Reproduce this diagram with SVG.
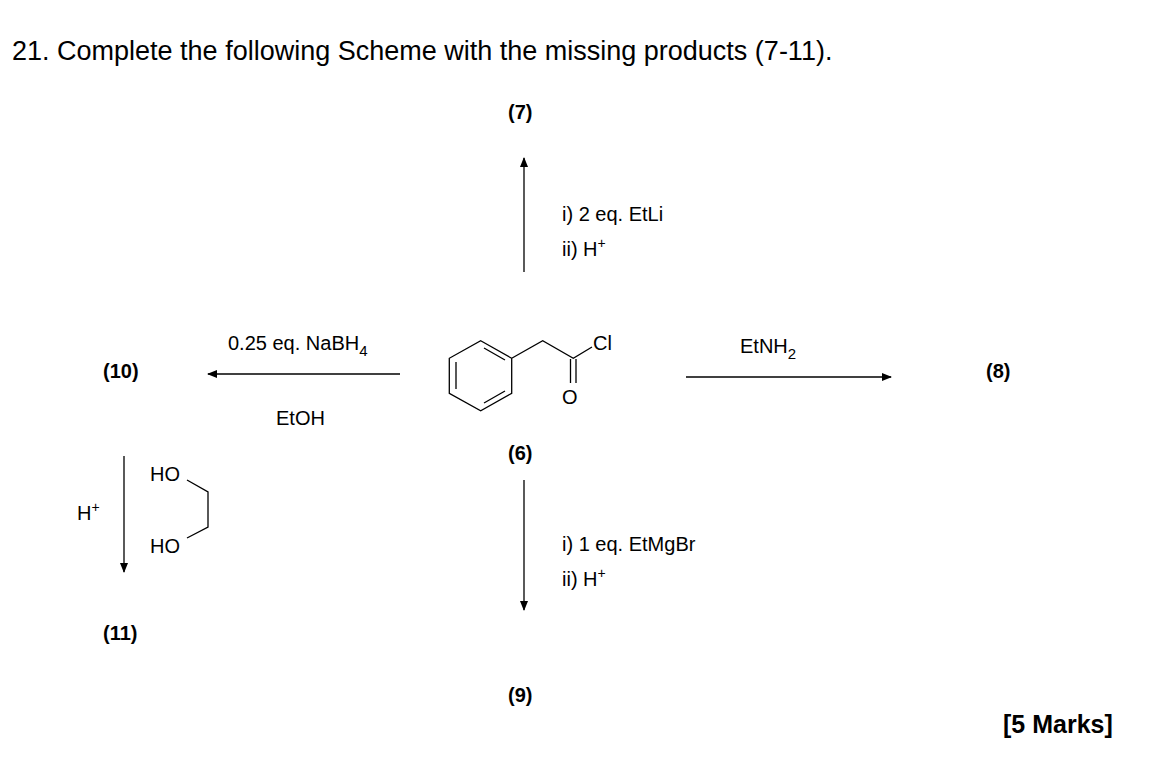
<svg xmlns="http://www.w3.org/2000/svg" width="1160" height="773" viewBox="0 0 1160 773">
<defs><marker id="ah" markerWidth="10" markerHeight="8" refX="9" refY="4" orient="auto" markerUnits="userSpaceOnUse"><path d="M0,0 L10,4 L0,8 Z" fill="#000"/></marker>
<style>text{font-family:"Liberation Sans",Arial,sans-serif;fill:#000}.t{font-size:20px}.b{font-size:20px;font-weight:bold}.ln{stroke:#000;stroke-width:1.3;fill:none}.ar{stroke:#000;stroke-width:1.3;fill:none;marker-end:url(#ah)}</style></defs>
<rect width="1160" height="773" fill="#fff"/>
<text x="12" y="60" style="font-size:27px">21. Complete the following Scheme with the missing products (7-11).</text>
<g id="n6"><path class="ln" d="M480.7,340.7 L511.7,358.3 L511.7,393.3 L480.7,410.7 L449.3,393.3 L449.3,358.3 Z M484,348 L505,360 M456,362 L456,389 M505,391 L484,403 M511.7,358.3 L542.7,340.7 L573.3,358.3 L592,347 M570.5,359 L570.5,383 M576,359 L576,383"/>
<text x="562" y="404" class="t">O</text><text x="593" y="350" class="t">Cl</text>
<text x="508" y="460" class="b">(6)</text></g>
<g id="n7"><text x="508" y="119" class="b">(7)</text></g>
<g id="n8"><text x="986" y="378" class="b">(8)</text></g>
<g id="n9"><text x="508" y="702" class="b">(9)</text></g>
<g id="n10"><text x="103" y="378" class="b">(10)</text></g>
<g id="n11"><text x="103" y="640" class="b">(11)</text></g>
<g id="connectors">
<line class="ar" x1="524" y1="272" x2="524" y2="158"/>
<line class="ar" x1="686" y1="377" x2="891" y2="377"/>
<line class="ar" x1="524" y1="480" x2="524" y2="610"/>
<line class="ar" x1="400" y1="374" x2="208" y2="374"/>
<line class="ar" x1="124" y1="456" x2="124" y2="572"/>
</g>
<g id="labels">
<text x="562" y="221" class="t">i) 2 eq. EtLi</text>
<text x="562" y="256" class="t">ii) H<tspan dy="-8" font-size="14">+</tspan></text>
<text x="740" y="353" class="t">EtNH<tspan dy="6" font-size="15">2</tspan></text>
<text x="562" y="551" class="t">i) 1 eq. EtMgBr</text>
<text x="562" y="586" class="t">ii) H<tspan dy="-8" font-size="14">+</tspan></text>
<text x="228" y="350" class="t">0.25 eq. NaBH<tspan dy="6" font-size="15">4</tspan></text>
<text x="276" y="425" class="t">EtOH</text>
<text x="77" y="520" class="t">H<tspan dy="-8" font-size="14">+</tspan></text>
<text x="150" y="481" class="t">HO</text><text x="150" y="553" class="t">HO</text>
<path class="ln" d="M187,480 L208,492 L208,527 L187,538"/>
</g>
<text x="1003" y="733" style="font-size:25px;font-weight:bold">[5 Marks]</text>
</svg>
